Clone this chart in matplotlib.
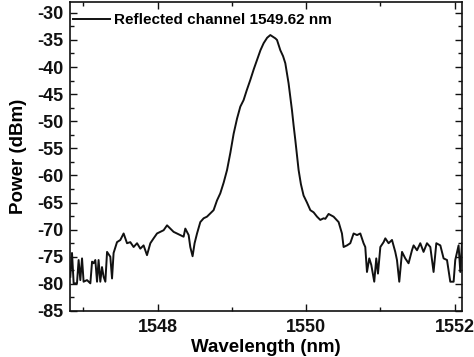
import matplotlib
matplotlib.use("Agg")
import matplotlib.pyplot as plt
from matplotlib.ticker import MultipleLocator

plt.rcParams['font.family'] = ['Liberation Sans', 'DejaVu Sans']
plt.rcParams['font.weight'] = 'bold'
plt.rcParams['axes.unicode_minus'] = False

wavelength = [
    1546.824, 1546.847, 1546.869, 1546.914, 1546.936, 1546.959, 1546.982, 1547.003,
    1547.049, 1547.094, 1547.117, 1547.138, 1547.161, 1547.184, 1547.205, 1547.228,
    1547.251, 1547.273, 1547.296, 1547.319, 1547.363, 1547.386, 1547.407, 1547.453,
    1547.498, 1547.542, 1547.588, 1547.632, 1547.677, 1547.723, 1547.767, 1547.811,
    1547.857, 1547.902, 1547.946, 1547.992, 1548.036, 1548.081, 1548.127, 1548.171,
    1548.215, 1548.261, 1548.306, 1548.350, 1548.373, 1548.418, 1548.440, 1548.471,
    1548.498, 1548.531, 1548.575, 1548.620, 1548.665, 1548.687, 1548.754, 1548.800,
    1548.844, 1548.890, 1548.935, 1548.980, 1549.024, 1549.070, 1549.114, 1549.158,
    1549.200, 1549.248, 1549.295, 1549.339, 1549.385, 1549.428, 1549.475,
    1549.518, 1549.541, 1549.585, 1549.608, 1549.653, 1549.690, 1549.720, 1549.764,
    1549.787, 1549.810, 1549.832, 1549.855, 1549.877, 1549.899, 1549.930,
    1549.966, 1550.012, 1550.057, 1550.101, 1550.147, 1550.191,
    1550.236, 1550.259, 1550.303, 1550.370, 1550.438, 1550.483, 1550.505, 1550.551,
    1550.595, 1550.640, 1550.686, 1550.730, 1550.774, 1550.797, 1550.820, 1550.851,
    1550.878, 1550.918, 1550.945, 1550.968, 1551.000, 1551.044, 1551.067, 1551.111,
    1551.157, 1551.201, 1551.224, 1551.255, 1551.292, 1551.336, 1551.380, 1551.426,
    1551.448, 1551.494, 1551.538, 1551.582, 1551.628, 1551.673, 1551.717, 1551.754,
    1551.808, 1551.852, 1551.898, 1551.942, 1551.987, 1552.009, 1552.054, 1552.077,
    1552.100,
]
power = [
    -78.7, -74.3, -79.9, -79.9, -75.6, -79.3, -75.3, -79.6,
    -79.3, -79.9, -75.9, -76.2, -75.6, -79.6, -75.6, -79.6,
    -76.9, -78.7, -79.6, -74.1, -75.0, -79.0, -74.3, -72.3,
    -71.9, -70.7, -72.5, -72.3, -73.2, -72.5, -73.5, -72.9,
    -74.7, -72.5, -71.6, -70.7, -70.4, -70.1, -69.2, -69.8,
    -70.4, -70.7, -71.0, -71.3, -69.8, -71.0, -73.2, -74.9,
    -72.5, -70.7, -68.6, -67.9, -67.6, -67.3, -66.4, -64.6,
    -63.3, -61.3, -59.0, -55.8, -52.3, -49.5, -47.3, -46.1,
    -44.3, -42.4, -40.4, -38.7, -36.9, -35.6, -34.6,
    -34.1, -34.3, -34.7, -35.0, -36.9, -38.0, -39.3, -43.0,
    -45.5, -48.0, -50.8, -53.5, -56.3, -59.0, -61.6,
    -63.7, -65.0, -66.4, -66.8, -67.6, -68.2,
    -67.9, -68.0, -67.1, -67.6, -68.6, -70.7, -73.2, -72.9,
    -72.5, -70.7, -71.0, -70.7, -72.5, -73.2, -77.8, -75.3,
    -76.5, -79.6, -75.3, -78.1, -73.2, -72.3, -71.6, -72.5,
    -71.9, -74.1, -75.6, -79.6, -74.1, -75.3, -76.2, -73.8,
    -72.9, -73.8, -72.5, -74.1, -72.5, -73.2, -77.8, -72.5,
    -72.9, -75.3, -75.6, -79.6, -79.6, -75.6, -72.9, -77.8,
    -72.5,
]
series_label = "Reflected channel 1549.62 nm"
x_ticks = [1548, 1550, 1552]
y_ticks = [-85, -80, -75, -70, -65, -60, -55, -50, -45, -40, -35, -30]

fig = plt.figure(figsize=(4.74, 3.57), dpi=100)
ax = fig.add_axes([0.1477, 0.1289, 0.8270, 0.8655])
ax.plot(wavelength, power, color='#111111', lw=1.4, label=series_label)

ax.set_xlim(1546.82, 1552.10)
ax.set_ylim(-85, -28)
ax.set_xticks(x_ticks)
ax.set_yticks(y_ticks)
ax.xaxis.set_minor_locator(MultipleLocator(1))
ax.yaxis.set_minor_locator(MultipleLocator(2.5))
ax.tick_params(which='both', direction='in', top=True, right=True, width=1.0,
               labelsize=13, colors='#111111')
ax.tick_params(which='major', length=5)
ax.tick_params(which='minor', length=3)
ax.tick_params(axis='x', pad=6)
ax.tick_params(axis='y', pad=5)
for sp in ax.spines.values():
    sp.set_linewidth(1.2)
    sp.set_color('#111111')

ax.set_xlabel("Wavelength (nm)", fontsize=13.5, fontweight='bold', labelpad=2)
ax.set_ylabel("Power (dBm)", fontsize=13.5, fontweight='bold', labelpad=7)

leg = ax.legend(loc='center left', bbox_to_anchor=(0.0, 0.942), frameon=False,
                handlelength=2.4, handletextpad=0.3, borderaxespad=0.0,
                borderpad=0.2, prop={'weight': 'bold', 'size': 11})

fig.savefig("out.png", dpi=100)
